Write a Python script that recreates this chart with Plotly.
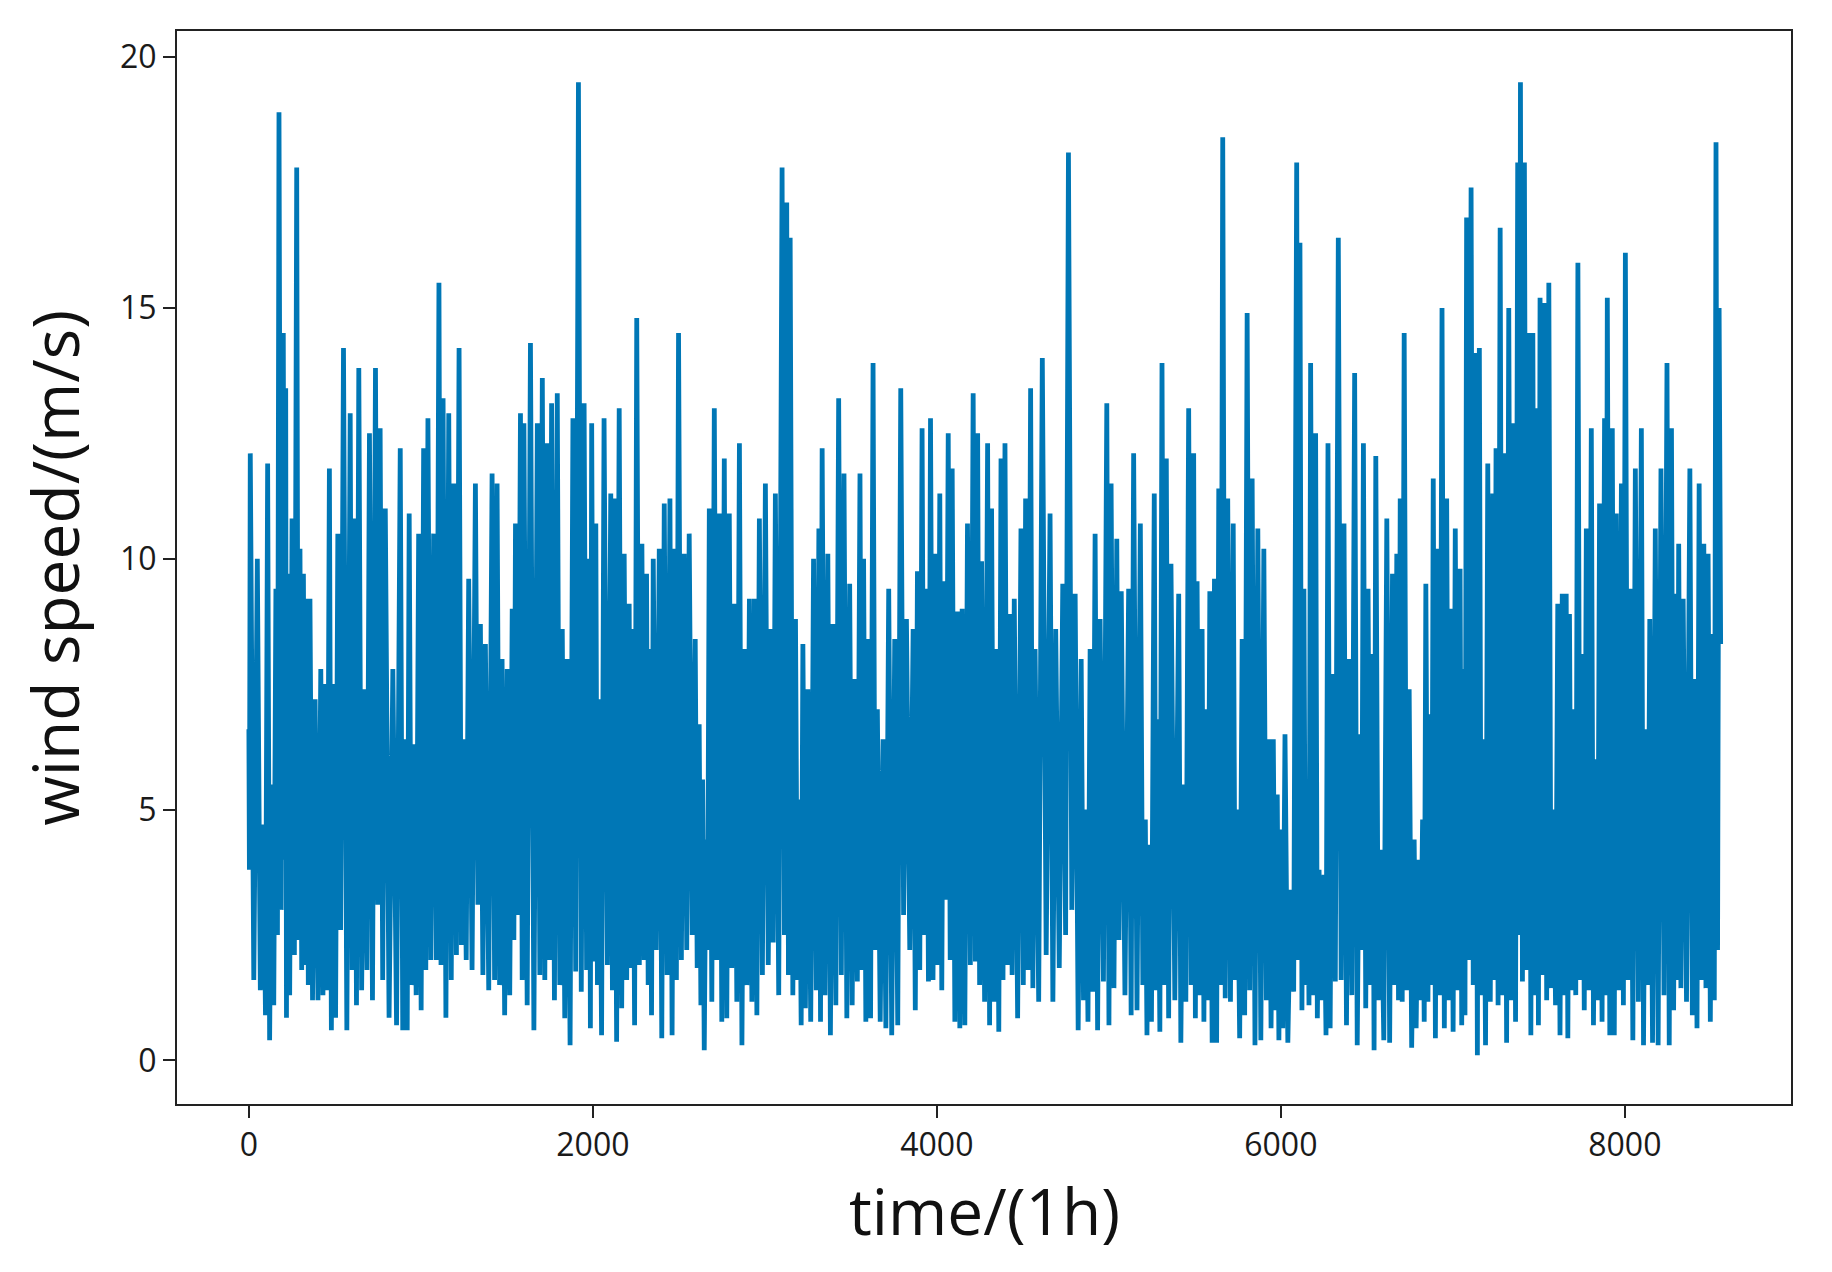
import plotly.graph_objects as go

# ---- data (hourly wind speed, m/s) ----
# local maxima (hour, speed) and the minimum that follows each maximum
start_hours = [0, 3]
start_speeds = [6.6, 3.8]

peak_hours = [
    8, 49, 84, 109, 132, 157, 175, 200, 214, 223, 251, 278, 297, 317, 336, 355, 385, 418, 443, 468,
    491, 517, 550, 589, 612, 639, 672, 701, 736, 763, 793, 837, 880, 909, 932, 958, 987, 1016, 1041, 1074,
    1105, 1129, 1162, 1191, 1222, 1249, 1278, 1317, 1346, 1375, 1414, 1443, 1472, 1502, 1531, 1550, 1579, 1599, 1637,
    1677, 1706, 1735, 1760, 1793, 1822, 1851, 1884, 1916, 1949, 1978, 1993, 2017, 2036, 2065, 2104, 2123, 2153, 2182, 2211,
    2230, 2255, 2285, 2312, 2331, 2351, 2386, 2415, 2448, 2473, 2498, 2531, 2560, 2595, 2618, 2638, 2657, 2677, 2706, 2735,
    2764, 2793, 2822, 2852, 2881, 2910, 2939, 2968, 3003, 3036, 3061, 3100, 3127, 3147, 3178, 3201, 3221, 3250, 3283, 3314,
    3333, 3366,
    3396, 3429, 3460, 3493, 3522, 3553, 3574, 3600, 3629, 3654, 3687, 3720, 3755, 3790, 3823, 3862, 3887, 3914, 3939, 3963,
    3992, 4017, 4040, 4066, 4089, 4120, 4147, 4178, 4211, 4237, 4260, 4295, 4318, 4347, 4373, 4396, 4425, 4450, 4489, 4516,
    4545, 4571, 4613, 4658, 4691, 4732, 4765, 4804, 4839, 4866, 4891, 4920, 4949, 4988, 5013, 5046, 5072,
    5115, 5144, 5183, 5212, 5231, 5264, 5284, 5309, 5334, 5361, 5406, 5431, 5464, 5493, 5513, 5542, 5563, 5587, 5614, 5639,
    5662, 5691, 5723, 5746, 5775, 5804, 5833, 5866, 5901, 5930, 5956, 5979, 5998, 6024, 6057, 6092, 6111, 6134, 6154, 6173,
    6202, 6222, 6251, 6274, 6299, 6334, 6367, 6396, 6429, 6459, 6480, 6507, 6532, 6552, 6581, 6616, 6649, 6674, 6694, 6717,
    6746, 6775, 6798, 6824,
    6843, 6867, 6886, 6911, 6937, 6964, 6989, 7014, 7042, 7061, 7080, 7106, 7131, 7154, 7177, 7203, 7232, 7251, 7275, 7300,
    7325, 7352, 7377, 7393, 7416, 7442, 7465, 7488, 7507, 7533, 7558, 7584, 7610, 7636, 7659, 7678, 7702, 7727, 7752, 7776,
    7805, 7830, 7853, 7882, 7898, 7927, 7950, 7980, 8003, 8032, 8061, 8096, 8121, 8145, 8177, 8210, 8245, 8271, 8296, 8313,
    8339, 8378, 8407, 8432, 8459, 8484, 8510, 8530, 8548,
]

peak_speeds = [
    12.1, 10.0, 4.7, 11.9, 5.5, 9.4, 18.9, 14.5, 13.4, 9.7, 10.8, 17.8, 10.2, 9.7, 9.2, 9.2, 7.2, 7.8, 7.5, 11.8,
    7.5, 10.5, 14.2, 12.9, 10.8, 13.8, 7.4, 12.5, 13.8, 12.6, 11.0, 7.8, 12.2, 6.4, 10.9, 6.3, 10.5, 12.2, 12.8, 10.5,
    15.5, 13.2, 12.9, 11.5, 14.2, 6.4, 9.6, 11.5, 8.7, 8.3, 11.7, 11.5, 8.0, 7.8, 9.0, 10.7, 12.9, 12.7, 14.3,
    12.7, 13.6, 12.3, 13.1, 13.3, 8.6, 8.0, 12.8, 19.5, 13.1, 10.0, 12.7, 10.7, 7.2, 12.8, 11.3, 11.2, 13.0, 10.1, 9.1,
    8.6, 14.8, 10.3, 9.7, 8.2, 10.0, 10.2, 11.1, 11.2, 10.2, 14.5, 10.1, 10.5, 8.4, 6.7, 5.6, 4.4, 11.0, 13.0, 10.9,
    12.0, 10.9, 9.1, 12.3, 8.2, 9.2, 9.2, 10.8, 11.5, 8.6, 11.3, 17.8, 17.1, 16.4, 8.8, 5.2, 8.3, 7.4, 10.0, 10.6,
    12.2, 10.1,
    8.7, 13.2, 11.7, 9.5, 7.6, 11.7, 10.0, 8.4, 13.9, 7.0, 6.4, 9.4, 8.4, 13.4, 8.8, 8.6, 9.75, 12.6, 9.4, 12.8,
    10.1, 11.3, 9.55, 12.5, 11.8, 8.95, 9.0, 10.7, 13.3, 12.5, 9.95, 12.3, 11.0, 8.2, 12.0, 12.3, 8.9, 9.2, 10.6, 11.2,
    13.4, 8.2, 14.0, 10.9, 8.6, 9.5, 18.1, 9.3, 8.0, 5.0, 8.2, 10.5, 8.8, 13.1, 11.5, 10.4, 9.35,
    9.4, 12.1, 10.7, 4.8, 4.3, 11.3, 6.8, 13.9, 12.0, 9.9, 9.3, 5.5, 13.0, 12.1, 9.55, 8.6, 7.0, 9.35, 9.6, 11.4,
    18.4, 11.2, 10.7, 5.0, 8.4, 14.9, 11.6, 10.6, 10.2, 6.4, 6.4, 5.3, 4.6, 6.5, 3.4, 17.9, 16.3, 9.4, 5.2, 13.9,
    12.5, 3.8, 3.7, 12.3, 7.7, 16.4, 10.7, 8.0, 13.7, 6.5, 12.3, 9.4, 8.1, 12.05, 4.2, 10.8, 9.7, 10.1, 11.2, 14.5,
    7.4, 4.4, 4.0, 4.8,
    9.5, 6.9, 11.6, 10.2, 15.0, 11.2, 9.0, 10.6, 9.8, 7.8, 16.8, 17.4, 14.1, 14.2, 6.4, 11.9, 11.3, 12.2, 16.6, 12.1,
    15.0, 12.7, 17.9, 19.5, 17.9, 14.5, 14.5, 13.0, 15.2, 15.1, 15.5, 5.0, 9.1, 9.3, 9.3, 8.9, 7.0, 15.9, 8.1, 10.6,
    12.6, 6.0, 11.1, 12.8, 15.2, 12.6, 10.9, 11.5, 16.1, 9.4, 11.8, 12.6, 6.6, 8.8, 10.6, 11.8, 13.9, 12.6, 9.3, 10.3,
    9.2, 11.8, 7.6, 11.5, 10.3, 10.1, 8.5, 18.3, 15.0,
]

trough_speeds = [
    1.6, 1.4, 0.9, 0.4, 1.1, 2.5, 3.0, 4.0, 0.85, 1.3, 2.1, 2.4, 1.8, 1.9, 1.5, 1.2, 1.2, 1.3, 1.4, 0.6,
    0.85, 2.6, 0.6, 1.8, 1.1, 1.4, 1.8, 1.2, 3.1, 1.6, 0.85, 0.7, 0.6, 0.6, 1.5, 1.3, 1.0, 1.8, 2.0, 2.0,
    1.9, 0.85, 1.6, 2.1, 2.3, 2.0, 1.8, 3.1, 1.7, 1.4, 1.6, 1.5, 0.9, 1.3, 2.4, 2.9, 1.6, 1.1, 0.6,
    1.7, 1.6, 2.0, 1.2, 1.5, 0.84, 0.3, 1.77, 1.37, 1.8, 0.64, 1.97, 1.5, 0.5, 1.9, 1.4, 0.37, 1.04, 1.6, 1.84,
    0.7, 1.9, 2.0, 1.5, 0.9, 2.2, 0.44, 1.7, 0.5, 1.6, 2.0, 2.2, 2.5, 1.84, 1.1, 0.2, 2.2, 1.17, 2.0, 0.77,
    0.84, 1.84, 1.17, 0.3, 1.5, 1.17, 0.9, 1.7, 1.9, 2.35, 1.3, 2.5, 1.7, 1.3, 1.6, 0.7, 1.04, 0.77, 1.4, 0.77,
    1.3, 0.5,
    1.1, 1.7, 0.84, 1.1, 1.57, 1.8, 0.77, 0.84, 2.2, 0.77, 0.64, 0.5, 0.7, 2.9, 2.2, 1.0, 1.8, 2.5, 1.57, 1.6,
    1.9, 1.4, 3.2, 2.0, 0.77, 0.64, 0.7, 1.9, 1.97, 1.5, 1.17, 0.7, 1.17, 0.57, 1.6, 1.9, 1.7, 0.84, 1.5, 1.8,
    1.44, 1.17, 2.1, 1.17, 1.84, 2.5, 3.0, 0.6, 1.2, 0.77, 1.37, 0.6, 1.57, 0.7, 1.44, 2.4, 1.3,
    0.9, 1.0, 1.5, 0.5, 0.77, 1.4, 0.57, 1.5, 0.84, 1.2, 0.35, 1.17, 1.5, 0.84, 1.3, 0.77, 1.2, 0.35, 0.35, 1.5,
    1.24, 1.17, 1.6, 0.44, 0.9, 1.4, 0.3, 0.4, 1.2, 0.64, 1.0, 0.4, 0.64, 0.35, 1.37, 2.0, 1.0, 1.5, 1.1, 1.3,
    0.84, 1.2, 0.5, 0.64, 1.57, 1.6, 0.7, 1.3, 0.3, 2.2, 1.04, 1.5, 0.2, 1.2, 0.4, 0.35, 1.5, 1.2, 1.17, 1.4,
    0.25, 0.64, 1.2, 0.77,
    1.17, 1.5, 0.44, 1.3, 0.64, 1.2, 0.57, 1.4, 0.7, 0.9, 2.0, 1.5, 0.1, 1.3, 0.3, 1.17, 1.6, 1.1, 1.3, 0.35,
    1.2, 0.77, 2.5, 1.57, 1.8, 0.5, 1.3, 0.7, 1.7, 1.2, 1.44, 1.1, 0.5, 1.3, 0.44, 1.4, 1.3, 1.6, 1.0, 1.4,
    0.7, 1.2, 0.77, 1.3, 0.5, 0.5, 1.4, 1.1, 1.6, 0.4, 1.17, 0.3, 1.5, 0.35, 0.3, 1.3, 0.3, 1.0, 1.6, 1.44,
    1.17, 0.9, 0.64, 1.6, 1.44, 0.77, 1.2, 2.2,
]

end_hours = [8557]
end_speeds = [8.3]

x_tick_values = [0, 2000, 4000, 6000, 8000]
y_tick_values = [0, 5, 10, 15, 20]
x_label = "time/(1h)"
y_label = "wind speed/(m/s)"

# ---- build the hourly trace: each maximum followed by its minimum ----
hours = list(start_hours)
speeds = list(start_speeds)
n = min(len(peak_hours), len(peak_speeds))
for i in range(n):
    hours.append(peak_hours[i])
    speeds.append(peak_speeds[i])
    if i < n - 1 and i < len(trough_speeds):
        hours.append((peak_hours[i] + peak_hours[i + 1]) / 2.0)
        speeds.append(trough_speeds[i])
hours += end_hours
speeds += end_speeds

LINE = "#0077b6"
FONT = "Open Sans"

fig = go.Figure()
fig.add_trace(go.Scatter(
    x=hours, y=speeds, mode="lines",
    line=dict(color=LINE, width=4.8),
    hoverinfo="skip", showlegend=False,
))

axis_common = dict(
    showline=True, linecolor="#222222", linewidth=2, mirror=True,
    ticks="outside", ticklen=12, tickwidth=2, tickcolor="#222222",
    showgrid=False, zeroline=False,
    tickfont=dict(family=FONT, size=32, color="#1a1a1a"),
)

fig.update_layout(
    width=1832, height=1272,
    margin=dict(l=169, r=49, t=23, b=176),
    paper_bgcolor="white", plot_bgcolor="white",
    xaxis=dict(range=[-418, 8966], tickvals=x_tick_values, **axis_common),
    yaxis=dict(range=[-0.87, 20.52], tickvals=y_tick_values, **axis_common),
    annotations=[
        dict(text=x_label, xref="paper", yref="paper", x=0.5, y=-0.099,
             xanchor="center", yanchor="middle", showarrow=False,
             font=dict(family=FONT, size=64, color="#111111")),
        dict(text=y_label, xref="paper", yref="paper", x=-0.076, y=0.5,
             xanchor="center", yanchor="middle", textangle=-90, showarrow=False,
             font=dict(family=FONT, size=64, color="#111111")),
    ],
)

fig.write_html("out.html")
